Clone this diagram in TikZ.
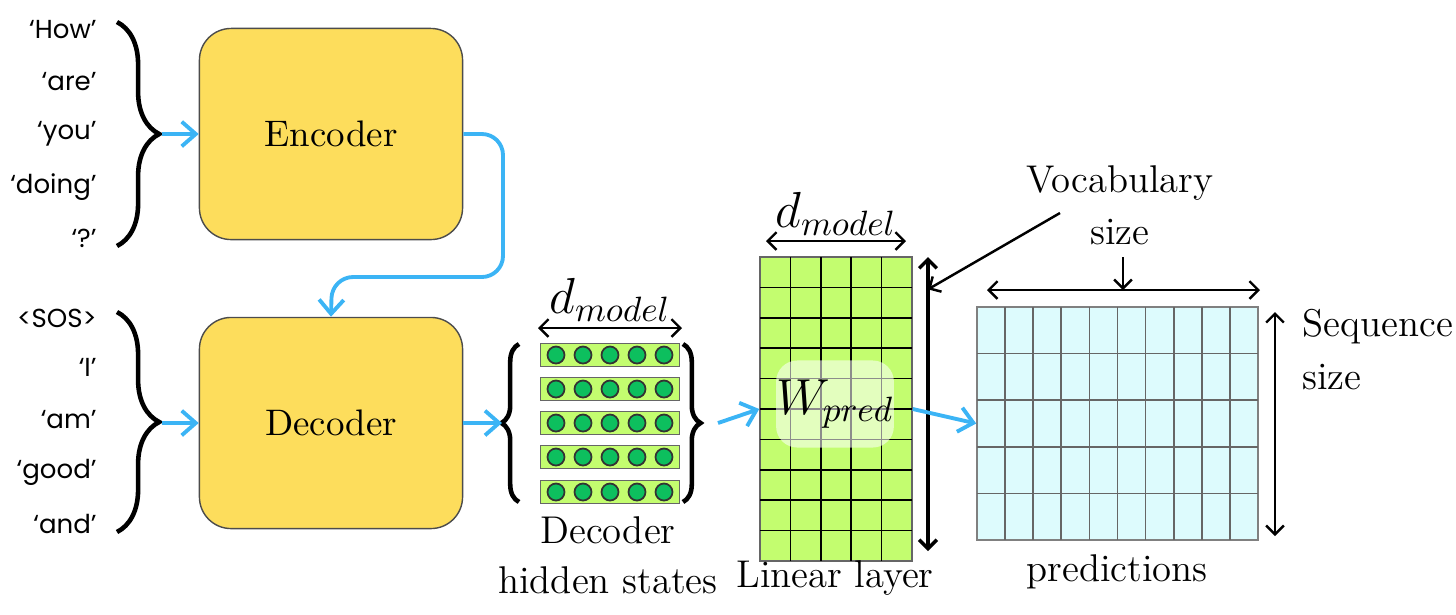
\documentclass[tikz,border=0pt]{standalone}
\usepackage{fontspec}
\newfontfamily\tokfont{Poppins}
\usetikzlibrary{arrows.meta,decorations.pathreplacing,positioning}
\definecolor{boxyellow}{HTML}{FDDD5C}
\definecolor{flowblue}{HTML}{3BB4F5}
\definecolor{weightgreen}{HTML}{C3FD6F}
\definecolor{unitgreen}{HTML}{0DBF5E}
\definecolor{predcyan}{HTML}{DDFBFD}
\tikzset{
  block/.style={draw=black!70,fill=boxyellow,rounded corners=9pt,minimum width=2.63cm,minimum height=2.11cm,font=\fontsize{10.5}{12}\selectfont},
  token/.style={anchor=east,font=\tokfont\fontsize{7.4}{8}\selectfont},
  flow/.style={->,>={Straight Barb[length=4pt,width=7pt]},draw=flowblue,line width=1.1pt},
  dim/.style={<->,>={Straight Barb[length=2.5pt,width=5pt]},line width=0.7pt},
  brc/.style={decorate,decoration={brace,amplitude=12pt},line width=1.3pt},
  lbl/.style={font=\fontsize{11}{12}\selectfont}
}
\begin{document}
\begin{tikzpicture}[x=0.01cm,y=-0.01cm]
  \useasboundingbox (0,0) rectangle (1456,614);
  % encoder / decoder
  \node[block] (enc) at (331,134) {Encoder};
  \node[block] (dec) at (331,423) {Decoder};
  % input tokens
  \foreach \w/\y [count=\i] in {{‘How’}/30,{‘are’}/82,{‘you’}/134,{‘doing’}/187,{‘?’}/238}
    \node[token] (e\i) at (109,\y) {\w};
  \foreach \w/\y [count=\i] in {{<SOS>}/318,{‘I’}/367,{‘am’}/420,{‘good’}/472,{‘and’}/524}
    \node[token] (d\i) at (109,\y) {\w};
  \draw[brc] (117,22) -- (117,246);
  \draw[brc] (117,312) -- (117,532);
  \coordinate (etip) at (162,134);
  \coordinate (dtip) at (162,423);
  \draw[flow] (etip) -- (enc.west);
  \draw[flow] (dtip) -- (dec.west);
  \draw[flow,rounded corners=6pt] (enc.east) -- (503,134) -- (503,277) -- (332,277) -- (dec.north);
  % decoder hidden states
  \foreach \y [count=\r] in {355,389,423,457,492} {
    \node[draw=black!60,fill=weightgreen,minimum width=1.39cm,minimum height=0.23cm,inner sep=0pt] (h\r) at (610,\y) {};
    \foreach \x in {556,583,610,637,664}
      \draw[fill=unitgreen,draw=black!80,line width=0.5pt] (\x,\y) circle (8.5);
  }
  \draw[brc,decoration={mirror,amplitude=5pt}] (519,344) -- (519,502);
  \draw[brc,decoration={amplitude=5pt}] (683,344) -- (683,502);
  \coordinate (htip) at (502,423);
  \coordinate (hout) at (718,423);
  \draw[dim] (538,328) -- (682,328);
  \node[font=\Large] at (610,300) {$d_{model}$};
  \node[lbl] at (608,530) {Decoder};
  \node[lbl] at (608,580) {hidden states};
  % linear layer
  \node[draw=black!60,fill=weightgreen,minimum width=1.52cm,minimum height=3.04cm,inner sep=0pt] (lin) at (836,409) {};
  \foreach \i in {1,...,4} \draw[line width=0.5pt] (760+30.4*\i,257) -- (760+30.4*\i,561);
  \foreach \i in {1,...,9} \draw[line width=0.5pt] (760,257+30.4*\i) -- (912,257+30.4*\i);
  \node[fill=white,fill opacity=0.55,text opacity=1,rounded corners=6pt,minimum width=1.14cm,minimum height=0.87cm,inner sep=0pt,font=\Large] (w) at (835,404) {$W_{pred}$};
  \draw[dim] (766,241) -- (906,241);
  \node[font=\Large] at (836,214) {$d_{model}$};
  \draw[dim,line width=1pt] (928,257) -- (928,551) coordinate[pos=0.11] (vhit);
  \node[lbl] at (835,578) {Linear layer};
  \draw[flow] (dec.east) -- (htip);
  \draw[flow] (hout) -- (lin.west);
  % predictions
  \node[draw=black!50,fill=predcyan,minimum width=2.81cm,minimum height=2.33cm,inner sep=0pt] (pred) at (1117.5,423.5) {};
  \foreach \i in {1,...,9} \draw[black!60,line width=0.5pt] (977+28.1*\i,307) -- (977+28.1*\i,540);
  \foreach \i in {1,...,4} \draw[black!60,line width=0.5pt] (977,307+46.6*\i) -- (1258,307+46.6*\i);
  \draw[flow] (lin.east) -- (pred.west);
  \node[lbl] at (1117,572) {predictions};
  \draw[dim] (987,290) -- (1260,290);
  \draw[dim] (1275,312) -- (1275,536);
  \node[lbl,anchor=west] (seq1) at (1290,327) {Sequence};
  \node[lbl,anchor=west] (seq2) at (1290,377) {size};
  \node[lbl] (voc1) at (1120,183) {Vocabulary};
  \node[lbl] (voc2) at (1120,232) {size};
  \draw[->,>={Straight Barb[length=2.5pt,width=5pt]},line width=0.7pt] (voc2.south) ++(3,0) -- (1123,290);
  \draw[->,>={Straight Barb[length=2.5pt,width=5pt]},line width=0.7pt] (1060,213) -- (vhit);
\end{tikzpicture}
\end{document}
